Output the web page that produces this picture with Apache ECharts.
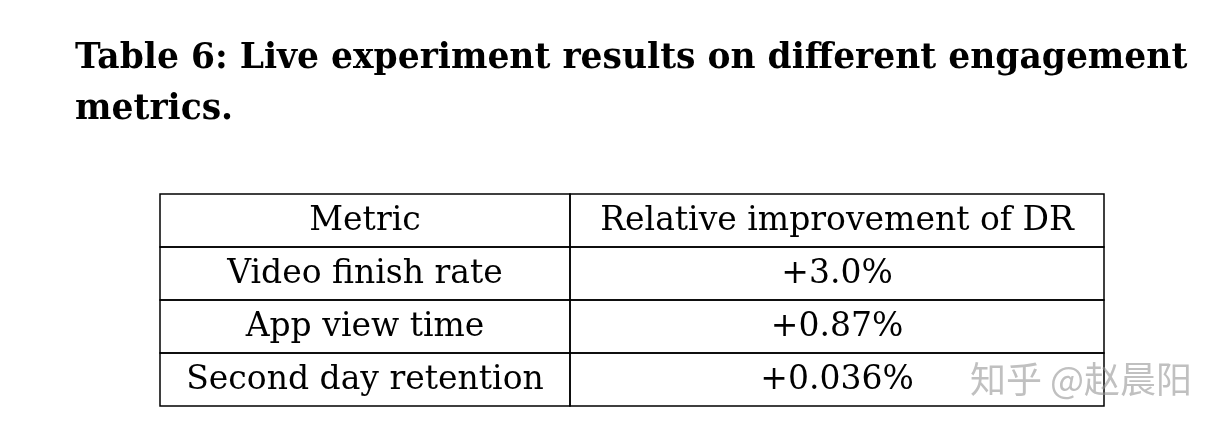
<!DOCTYPE html><html><head><meta charset="utf-8"><script src="https://cdn.jsdelivr.net/npm/echarts@6/dist/echarts.min.js"></script>
<style>html,body{margin:0;background:#fff}#c{width:1228px;height:430px}</style></head><body><div id="c"></div><script>
const titleLines = ['Table 6: Live experiment results on different engagement', 'metrics.'];
const headers = ['Metric', 'Relative improvement of DR'];
const metrics = ['Video finish rate', 'App view time', 'Second day retention'];
const improvements = ['+3.0%', '+0.87%', '+0.036%'];
const watermark = '知乎 @赵晨阳';
const colEdges = [0, 410, 944];

const rows = [headers].concat(metrics.map((m, i) => [m, improvements[i]]));
const data = [];
rows.forEach((r, ri) => r.forEach((t, ci) => data.push([colEdges[ci], colEdges[ci + 1], ri, t])));

const chart = echarts.init(document.getElementById('c'));
chart.setOption({
  backgroundColor: '#fff',
  animation: false,
  title: [
    { text: titleLines[0], left: 70, top: 37, textStyle: { fontFamily: 'DejaVu Serif', fontWeight: 'bold', fontSize: 34.5, color: '#000' } },
    { text: titleLines[1], left: 70, top: 88, textStyle: { fontFamily: 'DejaVu Serif', fontWeight: 'bold', fontSize: 34.5, color: '#000' } },
    { text: watermark, left: 965, top: 356, textStyle: { fontFamily: 'Noto Sans CJK SC', fontWeight: 'normal', fontSize: 36, color: 'rgba(150,150,150,0.6)' } }
  ],
  grid: { left: 160, right: 124, top: 194, bottom: 24 },
  xAxis: { type: 'value', min: 0, max: 944, show: false },
  yAxis: { type: 'value', min: 0, max: 4, inverse: true, show: false },
  series: [{
    type: 'custom',
    data: data,
    renderItem: (params, api) => {
      const p0 = api.coord([api.value(0), api.value(2)]);
      const p1 = api.coord([api.value(1), api.value(2) + 1]);
      return {
        type: 'group',
        children: [
          { type: 'rect', shape: { x: p0[0], y: p0[1], width: p1[0] - p0[0], height: p1[1] - p0[1] }, style: { fill: 'none', stroke: '#000', lineWidth: 1.5 } },
          { type: 'text', style: { text: api.value(3), x: (p0[0] + p1[0]) / 2, y: (p0[1] + p1[1]) / 2 + 1, align: 'center', verticalAlign: 'middle', font: '33px "DejaVu Serif"', fill: '#000' } }
        ]
      };
    }
  }]
});
</script></body></html>
